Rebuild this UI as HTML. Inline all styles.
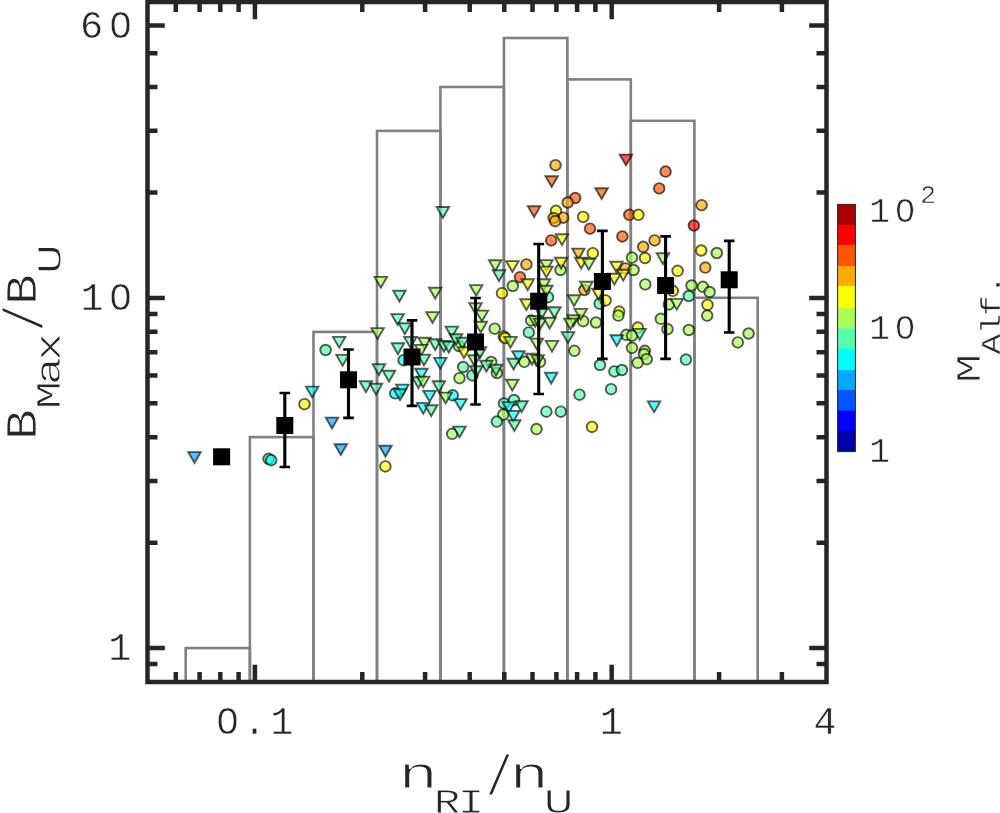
<!DOCTYPE html>
<html lang="en"><head><meta charset="utf-8"><title>BMax/BU vs nRI/nU</title>
<style>html,body{margin:0;padding:0;background:#fff}svg{display:block}text{font-family:"Liberation Mono",monospace;fill:#262626}</style>
</head><body>
<svg width="1000" height="813" viewBox="0 0 1000 813">
<rect width="1000" height="813" fill="#fff"/>
<g fill="none" stroke="#808080" stroke-width="2.6">
<rect x="185.7" y="648.1" width="64.2" height="33.9"/>
<rect x="249.9" y="437.1" width="63.6" height="244.9"/>
<rect x="313.5" y="331.9" width="63.5" height="350.1"/>
<rect x="377.0" y="130.9" width="63.4" height="551.1"/>
<rect x="440.4" y="87.0" width="63.5" height="595.0"/>
<rect x="503.9" y="38.0" width="63.5" height="644.0"/>
<rect x="567.4" y="79.4" width="63.4" height="602.6"/>
<rect x="630.8" y="120.8" width="63.6" height="561.2"/>
<rect x="694.4" y="297.8" width="63.3" height="384.2"/>
</g>
<g stroke="#000" stroke-opacity="0.64" stroke-width="1.9" fill-opacity="0.68" stroke-linejoin="miter">
<circle cx="268.6" cy="458.8" r="5.3" fill="#55FFAA"/>
<circle cx="271.2" cy="460.2" r="5.3" fill="#00FFFF"/>
<circle cx="304.5" cy="404.2" r="5.3" fill="#FFFF00"/>
<circle cx="385.4" cy="466.4" r="5.3" fill="#FFFF00"/>
<circle cx="325.6" cy="350.0" r="5.3" fill="#55FFAA"/>
<circle cx="403.6" cy="360.2" r="5.3" fill="#00FFFF"/>
<circle cx="459.0" cy="346.0" r="5.3" fill="#AAFF55"/>
<circle cx="459.5" cy="378.2" r="5.3" fill="#AAFF55"/>
<circle cx="395.2" cy="393.3" r="5.3" fill="#00FFFF"/>
<circle cx="452.8" cy="395.3" r="5.3" fill="#00FFFF"/>
<circle cx="452.2" cy="433.8" r="5.3" fill="#AAFF55"/>
<circle cx="526.4" cy="264.4" r="5.3" fill="#FFAA00"/>
<circle cx="520.0" cy="277.2" r="5.3" fill="#FF5500"/>
<circle cx="512.8" cy="286.0" r="5.3" fill="#AAFF55"/>
<circle cx="502.0" cy="293.2" r="5.3" fill="#FFFF00"/>
<circle cx="494.7" cy="328.7" r="5.3" fill="#AAFF55"/>
<circle cx="503.8" cy="336.5" r="5.3" fill="#FFFF00"/>
<circle cx="505.2" cy="338.0" r="5.3" fill="#FFFF00"/>
<circle cx="463.2" cy="367.0" r="5.3" fill="#55FFAA"/>
<circle cx="491.2" cy="362.0" r="5.3" fill="#AAFF55"/>
<circle cx="496.9" cy="373.0" r="5.3" fill="#AAFF55"/>
<circle cx="472.4" cy="375.4" r="5.3" fill="#55FFAA"/>
<circle cx="524.3" cy="361.8" r="5.3" fill="#AAFF55"/>
<circle cx="540.0" cy="361.8" r="5.3" fill="#AAFF55"/>
<circle cx="560.5" cy="270.0" r="5.3" fill="#AAFF55"/>
<circle cx="548.0" cy="297.2" r="5.3" fill="#55FFAA"/>
<circle cx="531.2" cy="320.4" r="5.3" fill="#AAFF55"/>
<circle cx="528.8" cy="332.4" r="5.3" fill="#55FFAA"/>
<circle cx="574.4" cy="350.8" r="5.3" fill="#AAFF55"/>
<circle cx="583.2" cy="321.2" r="5.3" fill="#AAFF55"/>
<circle cx="596.0" cy="322.5" r="5.3" fill="#AAFF55"/>
<circle cx="599.6" cy="303.6" r="5.3" fill="#55FFAA"/>
<circle cx="600.0" cy="365.0" r="5.3" fill="#55FFAA"/>
<circle cx="592.8" cy="253.2" r="5.3" fill="#FFFF00"/>
<circle cx="584.4" cy="290.0" r="5.3" fill="#FFAA00"/>
<circle cx="504.0" cy="403.5" r="5.3" fill="#55FFAA"/>
<circle cx="514.0" cy="400.0" r="5.3" fill="#55FFAA"/>
<circle cx="503.2" cy="414.7" r="5.3" fill="#AAFF55"/>
<circle cx="496.8" cy="421.6" r="5.3" fill="#55FFAA"/>
<circle cx="546.4" cy="411.7" r="5.3" fill="#55FFAA"/>
<circle cx="560.8" cy="411.7" r="5.3" fill="#55FFAA"/>
<circle cx="536.5" cy="429.1" r="5.3" fill="#AAFF55"/>
<circle cx="579.5" cy="394.7" r="5.3" fill="#55FFAA"/>
<circle cx="592.0" cy="426.9" r="5.3" fill="#FFFF00"/>
<circle cx="555.5" cy="165.2" r="5.3" fill="#FFAA00"/>
<circle cx="575.2" cy="198.0" r="5.3" fill="#FF5500"/>
<circle cx="567.7" cy="202.5" r="5.3" fill="#FFAA00"/>
<circle cx="556.0" cy="210.8" r="5.3" fill="#FFFF00"/>
<circle cx="563.2" cy="217.7" r="5.3" fill="#FFAA00"/>
<circle cx="553.6" cy="218.0" r="5.3" fill="#FFAA00"/>
<circle cx="555.2" cy="221.2" r="5.3" fill="#FFAA00"/>
<circle cx="583.2" cy="216.9" r="5.3" fill="#FFFF00"/>
<circle cx="590.0" cy="228.7" r="5.3" fill="#FF5500"/>
<circle cx="629.3" cy="214.8" r="5.3" fill="#FF5500"/>
<circle cx="638.4" cy="214.8" r="5.3" fill="#FFFF00"/>
<circle cx="622.4" cy="236.4" r="5.3" fill="#FF5500"/>
<circle cx="659.2" cy="188.4" r="5.3" fill="#FF5500"/>
<circle cx="654.6" cy="240.4" r="5.3" fill="#FFAA00"/>
<circle cx="643.2" cy="246.8" r="5.3" fill="#FFAA00"/>
<circle cx="632.0" cy="257.6" r="5.3" fill="#AAFF55"/>
<circle cx="645.0" cy="258.0" r="5.3" fill="#FFFF00"/>
<circle cx="551.2" cy="240.4" r="5.3" fill="#FF5500"/>
<circle cx="665.6" cy="171.6" r="5.3" fill="#FF5500"/>
<circle cx="701.6" cy="205.2" r="5.3" fill="#FFAA00"/>
<circle cx="693.9" cy="225.5" r="5.3" fill="#FF0000"/>
<circle cx="701.2" cy="250.5" r="5.3" fill="#FFFF00"/>
<circle cx="716.8" cy="253.0" r="5.3" fill="#AAFF55"/>
<circle cx="625.6" cy="268.4" r="5.3" fill="#FFAA00"/>
<circle cx="633.6" cy="270.0" r="5.3" fill="#AAFF55"/>
<circle cx="677.6" cy="270.8" r="5.3" fill="#FFFF00"/>
<circle cx="645.3" cy="284.4" r="5.3" fill="#AAFF55"/>
<circle cx="672.8" cy="290.8" r="5.3" fill="#FFFF00"/>
<circle cx="605.6" cy="300.4" r="5.3" fill="#FFFF00"/>
<circle cx="619.2" cy="311.6" r="5.3" fill="#FFFF00"/>
<circle cx="618.4" cy="315.6" r="5.3" fill="#AAFF55"/>
<circle cx="637.9" cy="327.6" r="5.3" fill="#FFFF00"/>
<circle cx="626.4" cy="334.8" r="5.3" fill="#AAFF55"/>
<circle cx="632.0" cy="335.6" r="5.3" fill="#AAFF55"/>
<circle cx="632.0" cy="347.8" r="5.3" fill="#AAFF55"/>
<circle cx="644.8" cy="350.8" r="5.3" fill="#AAFF55"/>
<circle cx="644.0" cy="354.0" r="5.3" fill="#AAFF55"/>
<circle cx="646.7" cy="359.2" r="5.3" fill="#AAFF55"/>
<circle cx="637.6" cy="362.8" r="5.3" fill="#AAFF55"/>
<circle cx="614.4" cy="371.4" r="5.3" fill="#55FFAA"/>
<circle cx="621.9" cy="370.0" r="5.3" fill="#55FFAA"/>
<circle cx="685.9" cy="359.6" r="5.3" fill="#55FFAA"/>
<circle cx="668.8" cy="304.4" r="5.3" fill="#AAFF55"/>
<circle cx="660.8" cy="318.8" r="5.3" fill="#AAFF55"/>
<circle cx="667.5" cy="329.2" r="5.3" fill="#AAFF55"/>
<circle cx="688.8" cy="330.0" r="5.3" fill="#AAFF55"/>
<circle cx="688.8" cy="296.0" r="5.3" fill="#55FFAA"/>
<circle cx="691.5" cy="285.5" r="5.3" fill="#AAFF55"/>
<circle cx="702.9" cy="286.8" r="5.3" fill="#AAFF55"/>
<circle cx="709.6" cy="292.0" r="5.3" fill="#AAFF55"/>
<circle cx="707.5" cy="304.9" r="5.3" fill="#FFFF00"/>
<circle cx="707.2" cy="315.6" r="5.3" fill="#AAFF55"/>
<circle cx="705.3" cy="267.6" r="5.3" fill="#FFAA00"/>
<circle cx="737.8" cy="342.4" r="5.3" fill="#AAFF55"/>
<circle cx="748.6" cy="333.5" r="5.3" fill="#AAFF55"/>
<circle cx="611.1" cy="389.2" r="5.3" fill="#55FFAA"/>
<path d="M188.3 452.1h12.4l-6.2 10.74z" fill="#00AAFF"/>
<path d="M306.0 386.6h12.4l-6.2 10.74z" fill="#00FFFF"/>
<path d="M325.8 417.6h12.4l-6.2 10.74z" fill="#00AAFF"/>
<path d="M334.6 444.2h12.4l-6.2 10.74z" fill="#00AAFF"/>
<path d="M379.3 445.8h12.4l-6.2 10.74z" fill="#00AAFF"/>
<path d="M374.6 276.9h12.4l-6.2 10.74z" fill="#AAFF55"/>
<path d="M393.2 290.8h12.4l-6.2 10.74z" fill="#55FFAA"/>
<path d="M429.0 287.8h12.4l-6.2 10.74z" fill="#AAFF55"/>
<path d="M426.3 312.1h12.4l-6.2 10.74z" fill="#AAFF55"/>
<path d="M391.4 314.1h12.4l-6.2 10.74z" fill="#55FFAA"/>
<path d="M398.6 323.3h12.4l-6.2 10.74z" fill="#55FFAA"/>
<path d="M371.4 328.1h12.4l-6.2 10.74z" fill="#AAFF55"/>
<path d="M333.0 336.9h12.4l-6.2 10.74z" fill="#55FFAA"/>
<path d="M336.4 354.9h12.4l-6.2 10.74z" fill="#55FFAA"/>
<path d="M404.2 336.9h12.4l-6.2 10.74z" fill="#55FFAA"/>
<path d="M418.3 337.8h12.4l-6.2 10.74z" fill="#AAFF55"/>
<path d="M391.7 343.3h12.4l-6.2 10.74z" fill="#55FFAA"/>
<path d="M414.8 344.9h12.4l-6.2 10.74z" fill="#AAFF55"/>
<path d="M417.8 354.6h12.4l-6.2 10.74z" fill="#55FFAA"/>
<path d="M429.0 339.3h12.4l-6.2 10.74z" fill="#55FFAA"/>
<path d="M437.8 340.9h12.4l-6.2 10.74z" fill="#55FFAA"/>
<path d="M442.6 341.8h12.4l-6.2 10.74z" fill="#55FFAA"/>
<path d="M445.6 326.6h12.4l-6.2 10.74z" fill="#55FFAA"/>
<path d="M449.8 334.3h12.4l-6.2 10.74z" fill="#55FFAA"/>
<path d="M434.1 357.9h12.4l-6.2 10.74z" fill="#00FFFF"/>
<path d="M372.7 364.3h12.4l-6.2 10.74z" fill="#55FFAA"/>
<path d="M382.8 370.8h12.4l-6.2 10.74z" fill="#55FFAA"/>
<path d="M415.2 368.8h12.4l-6.2 10.74z" fill="#00FFFF"/>
<path d="M359.7 381.3h12.4l-6.2 10.74z" fill="#55FFAA"/>
<path d="M369.8 383.8h12.4l-6.2 10.74z" fill="#55FFAA"/>
<path d="M396.2 384.6h12.4l-6.2 10.74z" fill="#00FFFF"/>
<path d="M393.8 389.3h12.4l-6.2 10.74z" fill="#00FFFF"/>
<path d="M412.2 377.3h12.4l-6.2 10.74z" fill="#55FFAA"/>
<path d="M417.0 376.6h12.4l-6.2 10.74z" fill="#AAFF55"/>
<path d="M432.7 381.3h12.4l-6.2 10.74z" fill="#55FFAA"/>
<path d="M423.4 390.9h12.4l-6.2 10.74z" fill="#00FFFF"/>
<path d="M417.0 402.9h12.4l-6.2 10.74z" fill="#00FFFF"/>
<path d="M425.0 405.3h12.4l-6.2 10.74z" fill="#55FFAA"/>
<path d="M439.4 392.6h12.4l-6.2 10.74z" fill="#AAFF55"/>
<path d="M454.3 399.1h12.4l-6.2 10.74z" fill="#00FFFF"/>
<path d="M453.3 426.6h12.4l-6.2 10.74z" fill="#55FFAA"/>
<path d="M489.0 260.3h12.4l-6.2 10.74z" fill="#AAFF55"/>
<path d="M492.8 270.3h12.4l-6.2 10.74z" fill="#55FFAA"/>
<path d="M506.2 261.1h12.4l-6.2 10.74z" fill="#FFFF00"/>
<path d="M521.5 279.3h12.4l-6.2 10.74z" fill="#FFFF00"/>
<path d="M470.0 285.1h12.4l-6.2 10.74z" fill="#AAFF55"/>
<path d="M469.3 303.3h12.4l-6.2 10.74z" fill="#AAFF55"/>
<path d="M475.7 310.6h12.4l-6.2 10.74z" fill="#AAFF55"/>
<path d="M474.6 321.8h12.4l-6.2 10.74z" fill="#AAFF55"/>
<path d="M456.2 337.8h12.4l-6.2 10.74z" fill="#55FFAA"/>
<path d="M457.8 347.3h12.4l-6.2 10.74z" fill="#FFFF00"/>
<path d="M504.2 336.9h12.4l-6.2 10.74z" fill="#AAFF55"/>
<path d="M468.2 355.3h12.4l-6.2 10.74z" fill="#AAFF55"/>
<path d="M473.8 347.3h12.4l-6.2 10.74z" fill="#55FFAA"/>
<path d="M480.2 360.8h12.4l-6.2 10.74z" fill="#55FFAA"/>
<path d="M489.8 364.8h12.4l-6.2 10.74z" fill="#55FFAA"/>
<path d="M470.2 366.3h12.4l-6.2 10.74z" fill="#55FFAA"/>
<path d="M512.2 351.3h12.4l-6.2 10.74z" fill="#00FFFF"/>
<path d="M507.4 358.8h12.4l-6.2 10.74z" fill="#55FFAA"/>
<path d="M525.8 353.8h12.4l-6.2 10.74z" fill="#AAFF55"/>
<path d="M531.4 355.3h12.4l-6.2 10.74z" fill="#AAFF55"/>
<path d="M545.0 372.8h12.4l-6.2 10.74z" fill="#00FFFF"/>
<path d="M520.2 299.3h12.4l-6.2 10.74z" fill="#FFFF00"/>
<path d="M540.2 260.1h12.4l-6.2 10.74z" fill="#AAFF55"/>
<path d="M540.2 266.6h12.4l-6.2 10.74z" fill="#FFFF00"/>
<path d="M554.9 257.8h12.4l-6.2 10.74z" fill="#FFFF00"/>
<path d="M537.8 279.3h12.4l-6.2 10.74z" fill="#AAFF55"/>
<path d="M540.2 285.8h12.4l-6.2 10.74z" fill="#AAFF55"/>
<path d="M548.2 307.3h12.4l-6.2 10.74z" fill="#55FFAA"/>
<path d="M535.4 308.1h12.4l-6.2 10.74z" fill="#55FFAA"/>
<path d="M529.0 316.1h12.4l-6.2 10.74z" fill="#AAFF55"/>
<path d="M533.8 318.6h12.4l-6.2 10.74z" fill="#AAFF55"/>
<path d="M543.4 317.8h12.4l-6.2 10.74z" fill="#AAFF55"/>
<path d="M530.6 338.6h12.4l-6.2 10.74z" fill="#AAFF55"/>
<path d="M545.8 340.9h12.4l-6.2 10.74z" fill="#AAFF55"/>
<path d="M561.8 332.1h12.4l-6.2 10.74z" fill="#55FFAA"/>
<path d="M567.9 295.3h12.4l-6.2 10.74z" fill="#AAFF55"/>
<path d="M574.6 308.9h12.4l-6.2 10.74z" fill="#AAFF55"/>
<path d="M567.4 315.3h12.4l-6.2 10.74z" fill="#AAFF55"/>
<path d="M564.2 318.6h12.4l-6.2 10.74z" fill="#AAFF55"/>
<path d="M572.2 248.6h12.4l-6.2 10.74z" fill="#FFAA00"/>
<path d="M575.0 257.8h12.4l-6.2 10.74z" fill="#FFFF00"/>
<path d="M582.6 258.9h12.4l-6.2 10.74z" fill="#AAFF55"/>
<path d="M580.2 281.8h12.4l-6.2 10.74z" fill="#AAFF55"/>
<path d="M592.2 288.6h12.4l-6.2 10.74z" fill="#FFFF00"/>
<path d="M506.1 379.8h12.4l-6.2 10.74z" fill="#AAFF55"/>
<path d="M502.6 402.1h12.4l-6.2 10.74z" fill="#00FFFF"/>
<path d="M515.4 401.3h12.4l-6.2 10.74z" fill="#55FFAA"/>
<path d="M507.1 410.9h12.4l-6.2 10.74z" fill="#00FFFF"/>
<path d="M508.2 420.2h12.4l-6.2 10.74z" fill="#55FFAA"/>
<path d="M545.5 176.2h12.4l-6.2 10.74z" fill="#FF5500"/>
<path d="M527.9 206.3h12.4l-6.2 10.74z" fill="#FF5500"/>
<path d="M595.4 188.2h12.4l-6.2 10.74z" fill="#FF5500"/>
<path d="M619.8 154.6h12.4l-6.2 10.74z" fill="#FF0000"/>
<path d="M656.8 253.3h12.4l-6.2 10.74z" fill="#AAFF55"/>
<path d="M555.8 234.3h12.4l-6.2 10.74z" fill="#FFFF00"/>
<path d="M610.3 261.8h12.4l-6.2 10.74z" fill="#FFFF00"/>
<path d="M617.0 269.8h12.4l-6.2 10.74z" fill="#FFFF00"/>
<path d="M608.2 273.8h12.4l-6.2 10.74z" fill="#FFFF00"/>
<path d="M633.5 328.9h12.4l-6.2 10.74z" fill="#55FFAA"/>
<path d="M610.6 335.3h12.4l-6.2 10.74z" fill="#00FFFF"/>
<path d="M670.6 298.9h12.4l-6.2 10.74z" fill="#AAFF55"/>
<path d="M647.9 401.4h12.4l-6.2 10.74z" fill="#00FFFF"/>
<path d="M436.7 207.0h12.4l-6.2 10.74z" fill="#55FFAA"/>
</g>
<g stroke="#000" stroke-width="2.7" fill="#000">
<rect x="213.1" y="448.3" width="17" height="17" stroke="none"/>
<path d="M284.8 393.0V467.0" fill="none" stroke-width="3.1"/><path d="M279.5 393.0h10.6M279.5 467.0h10.6" fill="none"/>
<rect x="276.3" y="417.0" width="17" height="17" stroke="none"/>
<path d="M348.5 349.5V417.8" fill="none" stroke-width="3.1"/><path d="M343.2 349.5h10.6M343.2 417.8h10.6" fill="none"/>
<rect x="340.0" y="371.3" width="17" height="17" stroke="none"/>
<path d="M412.0 320.4V405.9" fill="none" stroke-width="3.1"/><path d="M406.7 320.4h10.6M406.7 405.9h10.6" fill="none"/>
<rect x="403.5" y="348.5" width="17" height="17" stroke="none"/>
<path d="M475.5 298.0V404.5" fill="none" stroke-width="3.1"/><path d="M470.2 298.0h10.6M470.2 404.5h10.6" fill="none"/>
<rect x="467.0" y="333.5" width="17" height="17" stroke="none"/>
<path d="M538.7 244.0V394.0" fill="none" stroke-width="3.1"/><path d="M533.4 244.0h10.6M533.4 394.0h10.6" fill="none"/>
<rect x="530.2" y="292.7" width="17" height="17" stroke="none"/>
<path d="M602.4 230.8V358.8" fill="none" stroke-width="3.1"/><path d="M597.1 230.8h10.6M597.1 358.8h10.6" fill="none"/>
<rect x="593.9" y="273.0" width="17" height="17" stroke="none"/>
<path d="M665.6 236.4V358.8" fill="none" stroke-width="3.1"/><path d="M660.3 236.4h10.6M660.3 358.8h10.6" fill="none"/>
<rect x="657.1" y="277.0" width="17" height="17" stroke="none"/>
<path d="M729.2 240.8V332.5" fill="none" stroke-width="3.1"/><path d="M723.9 240.8h10.6M723.9 332.5h10.6" fill="none"/>
<rect x="720.7" y="271.3" width="17" height="17" stroke="none"/>
</g>
<g stroke="#262626" stroke-width="4.5" fill="none">
<path d="M175.8 682.0v-10.0M175.8 2.0v10.0M199.6 682.0v-10.0M199.6 2.0v10.0M220.3 682.0v-10.0M220.3 2.0v10.0M238.6 682.0v-10.0M238.6 2.0v10.0M362.3 682.0v-10.0M362.3 2.0v10.0M425.1 682.0v-10.0M425.1 2.0v10.0M469.7 682.0v-10.0M469.7 2.0v10.0M504.3 682.0v-10.0M504.3 2.0v10.0M532.5 682.0v-10.0M532.5 2.0v10.0M556.4 682.0v-10.0M556.4 2.0v10.0M577.1 682.0v-10.0M577.1 2.0v10.0M595.4 682.0v-10.0M595.4 2.0v10.0M719.1 682.0v-10.0M719.1 2.0v10.0M781.9 682.0v-10.0M781.9 2.0v10.0M254.9 682.0v-17.3M254.9 2.0v17.3M611.7 682.0v-17.3M611.7 2.0v17.3M147.5 664.1h10.0M826.5 664.1h-10.0M147.5 542.7h10.0M826.5 542.7h-10.0M147.5 481.0h10.0M826.5 481.0h-10.0M147.5 437.3h10.0M826.5 437.3h-10.0M147.5 403.3h10.0M826.5 403.3h-10.0M147.5 375.6h10.0M826.5 375.6h-10.0M147.5 352.2h10.0M826.5 352.2h-10.0M147.5 331.8h10.0M826.5 331.8h-10.0M147.5 313.9h10.0M826.5 313.9h-10.0M147.5 192.5h10.0M826.5 192.5h-10.0M147.5 130.8h10.0M826.5 130.8h-10.0M147.5 87.1h10.0M826.5 87.1h-10.0M147.5 53.2h10.0M826.5 53.2h-10.0M147.5 648.1h17.3M826.5 648.1h-17.3M147.5 297.9h17.3M826.5 297.9h-17.3M147.5 25.4h17.3M826.5 25.4h-17.3"/>
<rect x="147.5" y="2.0" width="679.0" height="680.0"/>
</g>
<rect x="837.6" y="204.20" width="17.8" height="21.10" fill="#AA0000"/>
<rect x="837.6" y="225.00" width="17.8" height="20.30" fill="#FF0000"/>
<rect x="837.6" y="245.00" width="17.8" height="21.30" fill="#FF5500"/>
<rect x="837.6" y="266.00" width="17.8" height="20.20" fill="#FFAA00"/>
<rect x="837.6" y="285.90" width="17.8" height="22.40" fill="#FFFF00"/>
<rect x="837.6" y="308.00" width="17.8" height="20.60" fill="#AAFF55"/>
<rect x="837.6" y="328.30" width="17.8" height="20.80" fill="#55FFAA"/>
<rect x="837.6" y="348.80" width="17.8" height="21.50" fill="#00FFFF"/>
<rect x="837.6" y="370.00" width="17.8" height="20.20" fill="#00AAFF"/>
<rect x="837.6" y="389.90" width="17.8" height="21.10" fill="#0055FF"/>
<rect x="837.6" y="410.70" width="17.8" height="20.50" fill="#0000FF"/>
<rect x="837.6" y="430.90" width="17.8" height="20.80" fill="#0000AA"/>
<rect x="837.6" y="204.4" width="17.8" height="247.2" fill="none" stroke="#262626" stroke-width="1"/>
<text transform="translate(0,38.0) scale(1.000,1.000)" x="91.6 120.5" y="0" font-size="38.6" text-anchor="middle" stroke="#fff" stroke-width="0.50">60</text>
<ellipse cx="120.5" cy="25.1" rx="2.9" ry="3.9" fill="#fff"/>
<text transform="translate(0,310.0) scale(1.000,1.000)" x="92.0 120.5" y="0" font-size="38.6" text-anchor="middle" stroke="#fff" stroke-width="0.50">10</text>
<ellipse cx="120.5" cy="297.1" rx="2.9" ry="3.9" fill="#fff"/>
<text transform="translate(0,660.0) scale(1.000,1.000)" x="119.8" y="0" font-size="38.6" text-anchor="middle" stroke="#fff" stroke-width="0.50">1</text>
<text transform="translate(0,733.8) scale(1.000,1.000)" x="227.5 254.5 281.9" y="0" font-size="38.6" text-anchor="middle" stroke="#fff" stroke-width="0.50">0.1</text>
<ellipse cx="227.5" cy="720.9" rx="2.9" ry="3.9" fill="#fff"/>
<text transform="translate(0,733.8) scale(1.000,1.000)" x="611.4" y="0" font-size="38.6" text-anchor="middle" stroke="#fff" stroke-width="0.50">1</text>
<text transform="translate(0,733.8) scale(1.000,1.000)" x="825.0" y="0" font-size="38.6" text-anchor="middle" stroke="#fff" stroke-width="0.50">4</text>
<text transform="translate(0,221.5) scale(1.000,1.000)" x="879.5 905.0" y="0" font-size="34.4" text-anchor="middle" stroke="#fff" stroke-width="0.50">10</text>
<ellipse cx="905.0" cy="210.0" rx="2.6" ry="3.4" fill="#fff"/>
<text transform="translate(0,203.2) scale(1.000,1.000)" x="928.0" y="0" font-size="26.2" text-anchor="middle" stroke="#fff" stroke-width="0.50">2</text>
<text transform="translate(0,338.5) scale(1.000,1.000)" x="879.5 905.0" y="0" font-size="34.4" text-anchor="middle" stroke="#fff" stroke-width="0.50">10</text>
<ellipse cx="905.0" cy="327.0" rx="2.6" ry="3.4" fill="#fff"/>
<text transform="translate(0,461.8) scale(1.000,1.000)" x="879.5" y="0" font-size="34.4" text-anchor="middle" stroke="#fff" stroke-width="0.50">1</text>
<text transform="translate(0,787.6) scale(1.300,0.860)" x="321.8" y="0" font-size="51.3" text-anchor="middle" stroke="#fff" stroke-width="1.40">n</text>
<text transform="translate(0,813.1) scale(1.080,0.860)" x="413.9 436.2" y="0" font-size="41.0" text-anchor="middle" stroke="#fff" stroke-width="0.90">RI</text>
<text transform="translate(0,794.2) scale(1.000,1.270)" x="499.2" y="0" font-size="44.0" text-anchor="middle" stroke="#fff" stroke-width="0.90">/</text>
<text transform="translate(0,787.6) scale(1.300,0.860)" x="407.2" y="0" font-size="51.3" text-anchor="middle" stroke="#fff" stroke-width="1.40">n</text>
<text transform="translate(0,813.1) scale(1.250,0.860)" x="446.9" y="0" font-size="41.0" text-anchor="middle" stroke="#fff" stroke-width="1.20">U</text>
<text transform="translate(35.5,0) rotate(-90) scale(1.000,0.860)" x="-424.7" y="0" font-size="51.3" text-anchor="middle" stroke="#fff" stroke-width="0.90">B</text>
<text transform="translate(60.4,0) rotate(-90) scale(1.150,0.860)" x="-343.6 -322.8 -301.6" y="0" font-size="41.0" text-anchor="middle" stroke="#fff" stroke-width="0.90">Max</text>
<text transform="translate(42.0,0) rotate(-90) scale(1.000,1.270)" x="-318.1" y="0" font-size="44.0" text-anchor="middle" stroke="#fff" stroke-width="0.90">/</text>
<text transform="translate(35.5,0) rotate(-90) scale(1.000,0.860)" x="-289.6" y="0" font-size="51.3" text-anchor="middle" stroke="#fff" stroke-width="0.90">B</text>
<text transform="translate(60.6,0) rotate(-90) scale(1.250,0.860)" x="-207.3" y="0" font-size="41.0" text-anchor="middle" stroke="#fff" stroke-width="1.20">U</text>
<text transform="translate(979.9,0) rotate(-90) scale(1.200,0.860)" x="-307.1" y="0" font-size="41.2" text-anchor="middle" stroke="#fff" stroke-width="0.90">M</text>
<text transform="translate(999.5,0) rotate(-90) scale(1.050,0.860)" x="-327.8 -308.7 -291.0 -271.2" y="0" font-size="33.0" text-anchor="middle" stroke="#fff" stroke-width="0.50">Alf.</text>
</svg></body></html>
